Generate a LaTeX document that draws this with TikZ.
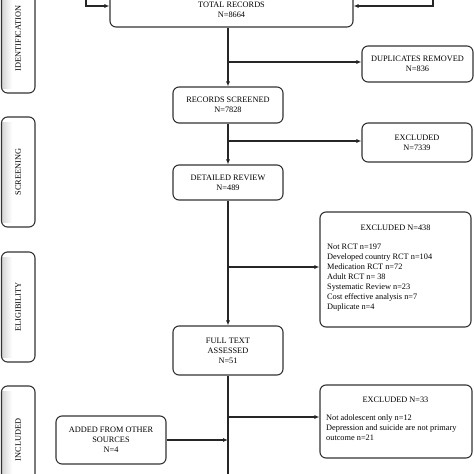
\documentclass[tikz,border=0pt]{standalone}
\usepackage{fontspec}
\setmainfont{Liberation Serif}
\usetikzlibrary{arrows.meta}
\begin{document}
\begin{tikzpicture}[x=1pt,y=-1pt,
  box/.style={draw=black!80,line width=1.1pt,rounded corners=6pt,inner sep=0pt},
  txt/.style={font=\fontsize{8.3}{10}\selectfont,align=center,inner sep=0pt},
  lst/.style={font=\fontsize{8.3}{10}\selectfont,align=left,inner sep=0pt,anchor=north west},
  conn/.style={draw=black!85,line width=1.2pt},
  arr/.style={conn,-{Latex[length=5pt,width=4pt]}},
  shd/.style={left color=black!16,right color=white,draw=none},
]
\clip (0,0) rectangle (474,474);
% phase boxes
\shade[shd] (2,-10) rectangle (12,88);
\shade[shd] (2,122) rectangle (12,222);
\shade[shd] (2,257) rectangle (12,357);
\shade[shd] (2,391) rectangle (12,490);
\node[box,minimum width=33.5pt,minimum height=109pt] (pid) at (18.25,38.5) {};
\node[txt,rotate=90] (lid) at (pid.center) {IDENTIFICATION};
\node[box,minimum width=33.5pt,minimum height=110pt] (psc) at (18.25,172) {};
\node[txt,rotate=90] (lsc) at (psc.center) {SCREENING};
\node[box,minimum width=33.5pt,minimum height=110pt] (pel) at (18.25,307) {};
\node[txt,rotate=90] (lel) at (pel.center) {ELIGIBILITY};
\node[box,minimum width=33.5pt,minimum height=108pt] (pin) at (18.25,440) {};
\node[txt,rotate=90] (lin) at (pin.center) {INCLUDED};
% flow boxes
\node[box,txt,minimum width=243pt,minimum height=35pt] (total) at (231.5,9.5) {TOTAL RECORDS\\N=8664};
\node[box,txt,minimum width=111pt,minimum height=36pt] (dup) at (417.5,64) {DUPLICATES REMOVED\\N=836};
\node[box,txt,minimum width=110pt,minimum height=36pt] (rs) at (228,105) {RECORDS SCREENED\\N=7828};
\node[box,txt,minimum width=110pt,minimum height=39pt] (ex1) at (417,142.5) {EXCLUDED\\N=7339};
\node[box,txt,minimum width=110pt,minimum height=35pt] (dr) at (228,182.5) {DETAILED REVIEW\\N=489};
\node[box,minimum width=151pt,minimum height=115pt] (ex2) at (395.5,269.5) {};
\node[txt] (ex2t) at (395.5,228) {EXCLUDED N=438};
\node[lst] (ex2l) at (327,244) {Not RCT n=197\\Developed country RCT n=104\\Medication RCT n=72\\Adult RCT n= 38\\Systematic Review n=23\\Cost effective analysis n=7\\Duplicate n=4};
\node[box,txt,minimum width=110pt,minimum height=49pt] (ft) at (228,350.5) {FULL TEXT\\ASSESSED\\N=51};
\node[box,minimum width=152pt,minimum height=73pt] (ex3) at (396,421.5) {};
\node[txt] (ex3t) at (395.5,400) {EXCLUDED N=33};
\node[lst] (ex3l) at (326,415) {Not adolescent only n=12\\Depression and suicide are not primary\\outcome n=21};
\node[box,txt,minimum width=110pt,minimum height=48pt] (add) at (111,440) {ADDED FROM OTHER\\SOURCES\\N=4};
% connectors
\coordinate (tl) at (86,-20);
\coordinate (tlc) at (86,6);
\coordinate (tr) at (433,-20);
\coordinate (trc) at (433,6);
\draw[arr] (tl) -- (tlc) -- (tlc -| total.west);
\draw[arr] (tr) -- (trc) -- (trc -| total.east);
\draw[arr] (rs.north |- total.south) -- (rs.north);
\coordinate (b1) at (228,62);
\draw[arr] (b1) -- (b1 -| dup.west);
\draw[arr] (rs.south) -- (dr.north);
\coordinate (b2) at (228,141);
\draw[arr] (b2) -- (b2 -| ex1.west);
\draw[arr] (dr.south) -- (ft.north);
\coordinate (b3) at (228,267);
\draw[arr] (b3) -- (b3 -| ex2.west);
\coordinate (bot) at (228,485);
\draw[conn] (ft.south) -- (bot);
\coordinate (b4) at (228,417);
\draw[arr] (b4) -- (b4 -| ex3.west);
\draw[arr] (add.east) -- (add.east -| ft.south);
\end{tikzpicture}
\end{document}
